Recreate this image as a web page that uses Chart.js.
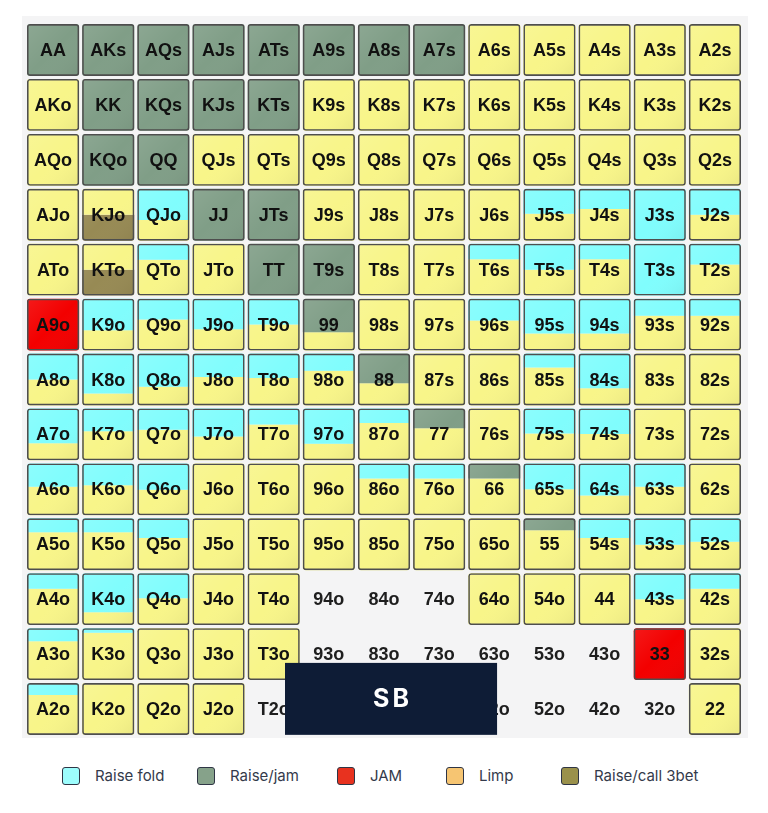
<!DOCTYPE html>
<html>
<head>
<meta charset="utf-8">
<script src="https://cdn.jsdelivr.net/npm/chart.js@4.4.1/dist/chart.umd.min.js"></script>
<style>
  html,body{margin:0;padding:0;background:#ffffff;width:768px;height:813px;overflow:hidden;}
  #panel{position:absolute;left:22px;top:16px;width:726px;height:722px;background:#f4f4f5;}
  #wrap{position:absolute;left:0;top:0;width:768px;height:740px;}
  .lg{position:absolute;top:766px;height:19px;display:flex;align-items:center;font-family:Inter,"Noto Sans",sans-serif;font-size:15px;color:#343a4b;}
  .lg i{display:inline-block;width:16px;height:16px;border:1.6px solid #2f3545;border-radius:3px;margin-right:15px;}
</style>
</head>
<body>
<div id="panel"></div>
<div id="wrap"><canvas id="c"></canvas></div>
<div id="legend"></div>
<script>
// ---------- data ----------
const ranks = ['A','K','Q','J','T','9','8','7','6','5','4','3','2'];

// Fractions of each cell (rows = first rank, cols = second rank)
const raiseJam = [
  [1,1,1,1,1,1,1,1,0,0,0,0,0],
  [0,1,1,1,1,0,0,0,0,0,0,0,0],
  [0,1,1,0,0,0,0,0,0,0,0,0,0],
  [0,0,0,1,1,0,0,0,0,0,0,0,0],
  [0,0,0,0,1,1,0,0,0,0,0,0,0],
  [0,0,0,0,0,.65,0,0,0,0,0,0,0],
  [0,0,0,0,0,0,.57,0,0,0,0,0,0],
  [0,0,0,0,0,0,0,.38,0,0,0,0,0],
  [0,0,0,0,0,0,0,0,.29,0,0,0,0],
  [0,0,0,0,0,0,0,0,0,.23,0,0,0],
  [0,0,0,0,0,0,0,0,0,0,0,0,0],
  [0,0,0,0,0,0,0,0,0,0,0,0,0],
  [0,0,0,0,0,0,0,0,0,0,0,0,0]
];
const raiseFold = [
  [0,0,0,0,0,0,0,0,0,0,0,0,0],
  [0,0,0,0,0,0,0,0,0,0,0,0,0],
  [0,0,0,0,0,0,0,0,0,0,0,0,0],
  [0,0,.6,0,0,0,0,0,0,.48,.39,1,.5],
  [0,0,.31,0,0,0,0,0,.3,.5,.3,1,.4],
  [0,.61,.4,.59,.5,0,0,0,.42,.67,.67,.33,.33],
  [.5,.77,.64,.45,.47,.33,0,0,0,.27,.67,0,0],
  [.67,.44,.41,.54,.31,.68,.28,0,0,.48,.49,0,0],
  [.45,.42,.51,0,0,0,.29,.29,0,.5,.62,.45,0],
  [.27,.27,.38,0,0,0,0,0,0,0,.38,.51,.45],
  [.3,.75,.48,0,0,0,0,0,0,0,0,.5,.3],
  [.25,.09,0,0,0,0,0,0,0,0,0,0,0],
  [.23,0,0,0,0,0,0,0,0,0,0,0,0]
];
const limp = [
  [0,0,0,0,0,0,0,0,1,1,1,1,1],
  [1,0,0,0,0,1,1,1,1,1,1,1,1],
  [1,0,0,1,1,1,1,1,1,1,1,1,1],
  [1,.5,.4,0,0,1,1,1,1,.52,.61,0,.5],
  [1,.5,.69,1,0,0,1,1,.7,.5,.7,0,.6],
  [0,.39,.6,.41,.5,.35,1,1,.58,.33,.33,.67,.67],
  [.5,.23,.36,.55,.53,.67,.43,1,1,.73,.33,1,1],
  [.33,.56,.59,.46,.69,.32,.72,.62,1,.52,.51,1,1],
  [.55,.58,.49,1,1,1,.71,.71,.71,.5,.38,.55,1],
  [.73,.73,.62,1,1,1,1,1,1,.77,.62,.49,.55],
  [.7,.25,.52,1,1,0,0,0,1,1,1,.5,.7],
  [.75,.91,1,1,1,0,0,0,0,0,0,0,1],
  [.77,1,1,1,0,0,0,0,0,0,0,0,1]
];
const raiseCall3bet = [
  [0,0,0,0,0,0,0,0,0,0,0,0,0],
  [0,0,0,0,0,0,0,0,0,0,0,0,0],
  [0,0,0,0,0,0,0,0,0,0,0,0,0],
  [0,.5,0,0,0,0,0,0,0,0,0,0,0],
  [0,.5,0,0,0,0,0,0,0,0,0,0,0],
  [0,0,0,0,0,0,0,0,0,0,0,0,0],
  [0,0,0,0,0,0,0,0,0,0,0,0,0],
  [0,0,0,0,0,0,0,0,0,0,0,0,0],
  [0,0,0,0,0,0,0,0,0,0,0,0,0],
  [0,0,0,0,0,0,0,0,0,0,0,0,0],
  [0,0,0,0,0,0,0,0,0,0,0,0,0],
  [0,0,0,0,0,0,0,0,0,0,0,0,0],
  [0,0,0,0,0,0,0,0,0,0,0,0,0]
];
const jam = [
  [0,0,0,0,0,0,0,0,0,0,0,0,0],
  [0,0,0,0,0,0,0,0,0,0,0,0,0],
  [0,0,0,0,0,0,0,0,0,0,0,0,0],
  [0,0,0,0,0,0,0,0,0,0,0,0,0],
  [0,0,0,0,0,0,0,0,0,0,0,0,0],
  [1,0,0,0,0,0,0,0,0,0,0,0,0],
  [0,0,0,0,0,0,0,0,0,0,0,0,0],
  [0,0,0,0,0,0,0,0,0,0,0,0,0],
  [0,0,0,0,0,0,0,0,0,0,0,0,0],
  [0,0,0,0,0,0,0,0,0,0,0,0,0],
  [0,0,0,0,0,0,0,0,0,0,0,0,0],
  [0,0,0,0,0,0,0,0,0,0,0,1,0],
  [0,0,0,0,0,0,0,0,0,0,0,0,0]
];

const legendLabels = ['Raise fold','Raise/jam','JAM','Limp','Raise/call 3bet'];
const legendColors = ['#9dfdfd','#86a28a','#e8321f','#f6c572','#9a914b'];
const positionLabel = 'SB';

// ---------- build datasets ----------
const INSET = 0.028, SPAN = 1 - 2*INSET;
const layers = [
  {m: raiseJam,      color:'#809e87'},
  {m: raiseFold,     color:'#80fdfd'},
  {m: limp,          color:'#f8f589'},
  {m: raiseCall3bet, color:'#978a54'},
  {m: jam,           color:'#f30000'}
];
function handLabel(r,c){
  if (r===c) return ranks[r]+ranks[c];
  if (c>r) return ranks[r]+ranks[c]+'s';
  return ranks[c]+ranks[r]+'o';
}
const layerData = layers.map(()=>[]);
const outline = [];
for (let r=0;r<13;r++){
  for (let c=0;c<13;c++){
    let total = 0;
    layers.forEach(L=>{ total += L.m[r][c]; });
    if (total<=0) continue;
    let cum = 0;
    layers.forEach((L,k)=>{
      const f = L.m[r][c];
      if (f<=0) return;
      const y0 = r + INSET + (cum/total)*SPAN;
      const y1 = r + INSET + ((cum+f)/total)*SPAN;
      const isTop = cum===0, isBot = (cum+f) >= total-1e-6;
      layerData[k].push({x: ranks[c], y:[y0,y1],
        rad:{topLeft:isTop?3:0, topRight:isTop?3:0, bottomLeft:isBot?3:0, bottomRight:isBot?3:0}});
      cum += f;
    });
    outline.push({x: ranks[c], y:[r+INSET, r+1-INSET]});
  }
}
const datasets = layers.map((L,k)=>({
  data: layerData[k],
  backgroundColor: L.color,
  borderWidth: 0,
  borderSkipped: false,
  borderRadius: ctx => (ctx.raw && ctx.raw.rad) ? ctx.raw.rad : 0,
  grouped: false,
  barPercentage: 0.946,
  categoryPercentage: 1,
  order: 2
}));
datasets.push({
  data: outline,
  backgroundColor: 'rgba(0,0,0,0)',
  borderColor: '#4e4e4e',
  borderWidth: 1.6,
  borderSkipped: false,
  borderRadius: 3,
  grouped: false,
  barPercentage: 0.946,
  categoryPercentage: 1,
  order: 1
});

// ---------- plugins ----------
const shadePlugin = {
  id:'shade',
  afterDatasetsDraw(chart){
    const {ctx} = chart;
    const meta = chart.getDatasetMeta(datasets.length-1);
    ctx.save();
    meta.data.forEach(el=>{
      const w = el.width, h = Math.abs(el.base - el.y);
      const left = el.x - w/2, top = Math.min(el.y, el.base);
      const g = ctx.createLinearGradient(left, top, left+w, top+h);
      g.addColorStop(0,'rgba(255,255,255,0.10)');
      g.addColorStop(0.5,'rgba(255,255,255,0)');
      g.addColorStop(1,'rgba(0,0,0,0.06)');
      ctx.fillStyle = g;
      ctx.fillRect(left+1.5, top+1.5, w-3, h-3);
    });
    ctx.restore();
  }
};
const labelPlugin = {
  id:'labels',
  afterDraw(chart){
    const {ctx, scales:{x,y}} = chart;
    ctx.save();
    ctx.textAlign='center';
    ctx.textBaseline='middle';
    ctx.font='bold 18px "Liberation Sans", Arial, sans-serif';
    for (let r=0;r<13;r++){
      for (let c=0;c<13;c++){
        const inRange = layers.some(L=>L.m[r][c]>0);
        ctx.fillStyle = inRange ? '#111111' : '#1e1e1e';
        ctx.fillText(handLabel(r,c), x.getPixelForValue(c), y.getPixelForValue(r+0.52));
      }
    }
    // position box
    const x0 = x.getPixelForValue(4.205), x1 = x.getPixelForValue(8.05);
    const y0 = y.getPixelForValue(11.66), y1 = y.getPixelForValue(12.97);
    ctx.fillStyle = '#0e1c36';
    ctx.fillRect(x0, y0, x1-x0, y1-y0);
    ctx.fillStyle = '#ffffff';
    ctx.font = 'bold 25px Inter, "Noto Sans", sans-serif';
    try { ctx.letterSpacing = '3px'; } catch(e){}
    ctx.fillText(positionLabel, (x0+x1)/2 + 1.5, (y0+y1)/2 + 1);
    ctx.restore();
  }
};

new Chart(document.getElementById('c'), {
  type:'bar',
  data:{ labels: ranks, datasets },
  options:{
    responsive:true,
    maintainAspectRatio:false,
    animation:false,
    events:[],
    layout:{ padding:{ left:25.5, right:25.5, top:22.5, bottom:3.5 } },
    plugins:{ legend:{display:false}, tooltip:{enabled:false} },
    scales:{
      x:{ type:'category', display:false, offset:true },
      y:{ type:'linear', display:false, min:0, max:13, reverse:true }
    }
  },
  plugins:[shadePlugin, labelPlugin]
});

// ---------- legend ----------
const lgPos = [62,197,337,446,561];
const lg = document.getElementById('legend');
legendLabels.forEach((t,i)=>{
  const d = document.createElement('div');
  d.className='lg';
  d.style.left = lgPos[i]+'px';
  d.innerHTML = '<i style="background:'+legendColors[i]+'"></i><span>'+t+'</span>';
  lg.appendChild(d);
});
</script>
</body>
</html>
